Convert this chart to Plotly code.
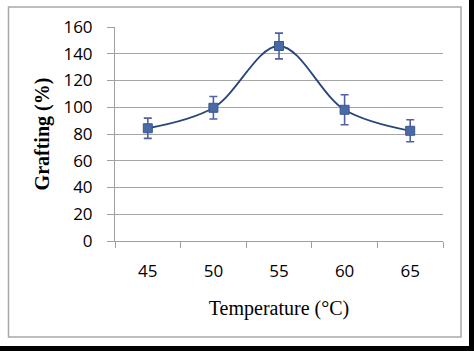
import plotly.graph_objects as go

temps = ["45", "50", "55", "60", "65"]
grafting = [84.3, 99.6, 145.8, 98.1, 82.4]
errors = [7.6, 8.4, 9.6, 11.2, 8.2]
y_ticks = [0, 20, 40, 60, 80, 100, 120, 140, 160]

W, H = 474, 351
L, R, T, B = 115, 31, 27, 110
pw, ph = W - L - R, H - T - B

def px(x):
    return (x - L) / pw

def py(y):
    return (H - B - y) / ph

fig = go.Figure()
fig.add_trace(go.Scatter(
    x=temps, y=grafting,
    mode="lines+markers",
    line=dict(color="#27457A", width=1.8, shape="spline", smoothing=1.0),
    marker=dict(symbol="square", size=9, color="#4A6AA5",
                line=dict(color="#3A5790", width=1)),
    error_y=dict(type="data", array=errors, visible=True,
                 color="#4F63A0", thickness=1.6, width=4),
    showlegend=False,
))

fig.update_layout(
    width=W, height=H,
    margin=dict(l=L, r=R, t=T, b=B),
    paper_bgcolor="white", plot_bgcolor="white",
    xaxis=dict(
        type="category", range=[-0.5, 4.5],
        showgrid=False, showline=True, linecolor="#A0A0A0", linewidth=1,
        ticks="outside", tickson="boundaries", ticklen=6, tickcolor="#A0A0A0",
        tickfont=dict(family="Open Sans", size=17, color="black"),
        ticklabelstandoff=15,
        title=dict(text="Temperature (°C)", standoff=19,
                   font=dict(family="Liberation Serif", size=20, color="black")),
        fixedrange=True,
    ),
    yaxis=dict(
        range=[0, 160], tickvals=y_ticks,
        showgrid=True, gridcolor="#A6A6A6", gridwidth=1,
        showline=True, linecolor="#A0A0A0", linewidth=1,
        ticks="outside", ticklen=7, tickcolor="#A0A0A0",
        tickfont=dict(family="Open Sans", size=17, color="black"),
        ticklabelstandoff=11,
        zeroline=False,
        title=dict(text="<b>Grafting (%)</b>", standoff=8,
                   font=dict(family="Liberation Serif", size=20, color="black")),
        fixedrange=True,
    ),
    shapes=[
        dict(type="rect", xref="paper", yref="paper",
             x0=px(8.5), x1=px(461), y0=py(337), y1=py(7),
             line=dict(color="#A8A8A8", width=1.5), layer="below"),
        dict(type="rect", xref="paper", yref="paper",
             x0=px(469), x1=px(476), y0=py(353), y1=py(0),
             line=dict(width=0), fillcolor="black"),
        dict(type="rect", xref="paper", yref="paper",
             x0=px(-2), x1=px(476), y0=py(353), y1=py(346),
             line=dict(width=0), fillcolor="black"),
    ],
)

fig.write_html("out.html")
